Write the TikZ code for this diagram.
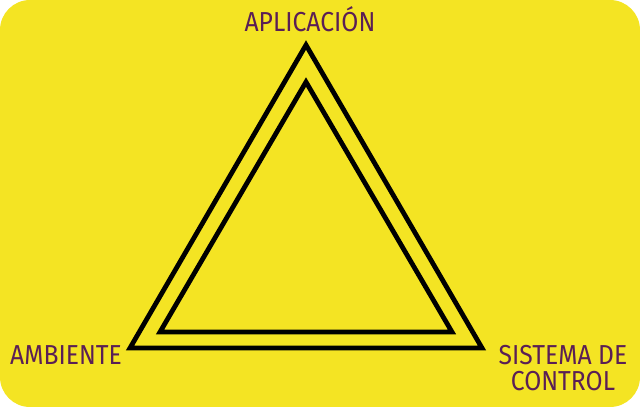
\documentclass[tikz,border=0pt]{standalone}
\usepackage{fontspec}
\setmainfont{Fira Sans}
\newfontfamily\rotulo[FakeStretch=0.9]{Fira Sans}
\definecolor{fondo}{HTML}{F4E423}
\definecolor{texto}{HTML}{5A1F55}
\tikzset{etiqueta/.style={text=texto,font=\rotulo\fontsize{19.5}{18}\selectfont,inner sep=0pt,anchor=base,align=center}}
\begin{document}
\begin{tikzpicture}[x=0.025cm,y=-0.025cm,line width=3.4pt,line join=miter]

      \useasboundingbox (0,0) rectangle (640,407);
      \fill[fondo,rounded corners=30*0.025cm] (0,0) rectangle (640,407);

      \path (306,45)  coordinate (a1);
      \path (130,348) coordinate (b1);
      \path (482,348) coordinate (c1);
      \path (306,82)  coordinate (a2);
      \path (160,332) coordinate (b2);
      \path (452,332) coordinate (c2);

      \path (310,32)  node[etiqueta] (apl)  {APLICACIÓN};
      \path (66,364)  node[etiqueta] (amb)  {AMBIENTE};
      \path (563,390) node[etiqueta] (sis)  {SISTEMA DE\\CONTROL};

      \draw (a1) -- (b1) -- (c1) -- cycle;
      \draw (a2) -- (b2) -- (c2) -- cycle;
   \end{tikzpicture}
\end{document}
